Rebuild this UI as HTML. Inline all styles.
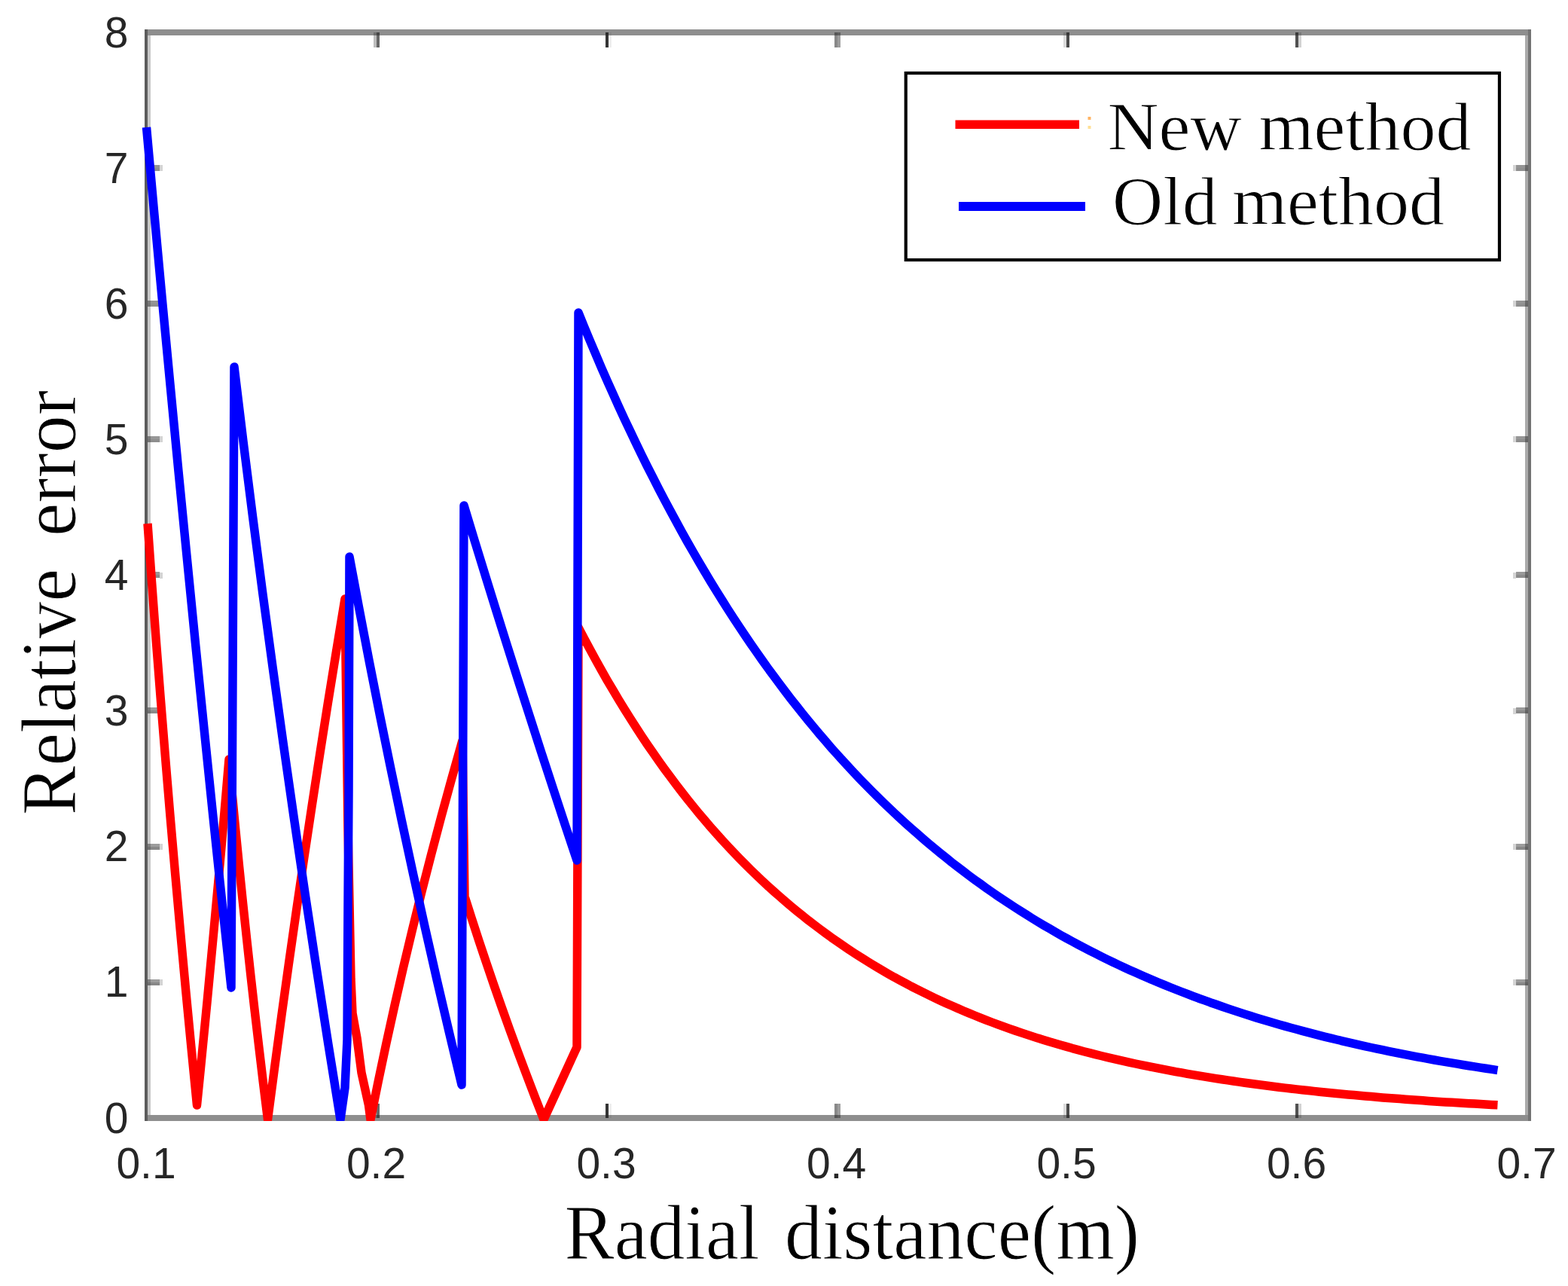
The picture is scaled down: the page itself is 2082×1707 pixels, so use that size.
<!DOCTYPE html>
<html><head><meta charset="utf-8"><title>Relative error vs radial distance</title>
<style>html,body{margin:0;padding:0;background:#fff;}body{width:2082px;height:1707px;overflow:hidden;}svg{display:block;}</style>
</head><body>
<svg width="2082" height="1707" viewBox="0 0 2082 1707">
<defs><clipPath id="c"><rect x="150" y="39" width="1883" height="1449"/></clipPath></defs>
<rect width="2082" height="1707" fill="#fff"/>
<g shape-rendering="crispEdges">
<rect x="192" y="39" width="1841" height="8" fill="#8e8e8e"/>
<rect x="192" y="1480" width="1841" height="8" fill="#8e8e8e"/>
<rect x="192" y="39" width="4" height="1449" fill="#5c5c5c"/>
<rect x="196" y="47" width="4" height="1433" fill="#c8c8c8"/>
<rect x="2025" y="47" width="4" height="1433" fill="#ababab"/>
<rect x="2029" y="39" width="4" height="1449" fill="#747474"/>
<rect x="196" y="1299.66" width="16" height="4.0021" fill="#262626" fill-opacity="0.45"/>
<rect x="196" y="1303.66" width="16" height="4.0021" fill="#262626" fill-opacity="0.55"/>
<rect x="2013" y="1299.66" width="16" height="4.0021" fill="#262626" fill-opacity="0.45"/>
<rect x="2013" y="1303.66" width="16" height="4.0021" fill="#262626" fill-opacity="0.55"/>
<rect x="212" y="1299.9" width="4" height="8" fill="#262626" fill-opacity="0.2"/>
<rect x="2009" y="1299.9" width="4" height="8" fill="#262626" fill-opacity="0.2"/>
<rect x="196" y="1119.57" width="16" height="4.0021" fill="#262626" fill-opacity="0.45"/>
<rect x="196" y="1123.57" width="16" height="4.0021" fill="#262626" fill-opacity="0.55"/>
<rect x="2013" y="1119.57" width="16" height="4.0021" fill="#262626" fill-opacity="0.45"/>
<rect x="2013" y="1123.57" width="16" height="4.0021" fill="#262626" fill-opacity="0.55"/>
<rect x="212" y="1119.8" width="4" height="8" fill="#262626" fill-opacity="0.2"/>
<rect x="2009" y="1119.8" width="4" height="8" fill="#262626" fill-opacity="0.2"/>
<rect x="196" y="939.47" width="16" height="4.0021" fill="#262626" fill-opacity="0.46"/>
<rect x="196" y="943.47" width="16" height="4.0021" fill="#262626" fill-opacity="0.54"/>
<rect x="2013" y="939.47" width="16" height="4.0021" fill="#262626" fill-opacity="0.46"/>
<rect x="2013" y="943.47" width="16" height="4.0021" fill="#262626" fill-opacity="0.54"/>
<rect x="212" y="939.6" width="4" height="8" fill="#262626" fill-opacity="0.2"/>
<rect x="2009" y="939.6" width="4" height="8" fill="#262626" fill-opacity="0.2"/>
<rect x="196" y="759.38" width="16" height="4.0021" fill="#262626" fill-opacity="0.47"/>
<rect x="196" y="763.38" width="16" height="4.0021" fill="#262626" fill-opacity="0.53"/>
<rect x="2013" y="759.38" width="16" height="4.0021" fill="#262626" fill-opacity="0.47"/>
<rect x="2013" y="763.38" width="16" height="4.0021" fill="#262626" fill-opacity="0.53"/>
<rect x="212" y="759.5" width="4" height="8" fill="#262626" fill-opacity="0.2"/>
<rect x="2009" y="759.5" width="4" height="8" fill="#262626" fill-opacity="0.2"/>
<rect x="196" y="579.28" width="16" height="4.0021" fill="#262626" fill-opacity="0.48"/>
<rect x="196" y="583.29" width="16" height="4.0021" fill="#262626" fill-opacity="0.52"/>
<rect x="2013" y="579.28" width="16" height="4.0021" fill="#262626" fill-opacity="0.48"/>
<rect x="2013" y="583.29" width="16" height="4.0021" fill="#262626" fill-opacity="0.52"/>
<rect x="212" y="579.4" width="4" height="8" fill="#262626" fill-opacity="0.2"/>
<rect x="2009" y="579.4" width="4" height="8" fill="#262626" fill-opacity="0.2"/>
<rect x="196" y="399.19" width="16" height="4.0021" fill="#262626" fill-opacity="0.49"/>
<rect x="196" y="403.19" width="16" height="4.0021" fill="#262626" fill-opacity="0.51"/>
<rect x="2013" y="399.19" width="16" height="4.0021" fill="#262626" fill-opacity="0.49"/>
<rect x="2013" y="403.19" width="16" height="4.0021" fill="#262626" fill-opacity="0.51"/>
<rect x="212" y="399.2" width="4" height="8" fill="#262626" fill-opacity="0.2"/>
<rect x="2009" y="399.2" width="4" height="8" fill="#262626" fill-opacity="0.2"/>
<rect x="196" y="219.09" width="16" height="4.0021" fill="#262626" fill-opacity="0.49"/>
<rect x="196" y="223.10" width="16" height="4.0021" fill="#262626" fill-opacity="0.51"/>
<rect x="2013" y="219.09" width="16" height="4.0021" fill="#262626" fill-opacity="0.49"/>
<rect x="2013" y="223.10" width="16" height="4.0021" fill="#262626" fill-opacity="0.51"/>
<rect x="212" y="219.1" width="4" height="8" fill="#262626" fill-opacity="0.2"/>
<rect x="2009" y="219.1" width="4" height="8" fill="#262626" fill-opacity="0.2"/>
<rect x="496" y="43" width="4" height="20" fill="#262626" fill-opacity="0.30"/>
<rect x="500" y="43" width="4" height="20" fill="#262626" fill-opacity="0.70"/>
<rect x="496" y="1465" width="4" height="19" fill="#262626" fill-opacity="0.30"/>
<rect x="500" y="1465" width="4" height="19" fill="#262626" fill-opacity="0.70"/>
<rect x="804" y="43" width="4" height="20" fill="#262626" fill-opacity="0.93"/>
<rect x="808" y="43" width="4" height="20" fill="#262626" fill-opacity="0.07"/>
<rect x="804" y="1465" width="4" height="19" fill="#262626" fill-opacity="0.93"/>
<rect x="808" y="1465" width="4" height="19" fill="#262626" fill-opacity="0.07"/>
<rect x="1108" y="43" width="4" height="20" fill="#262626" fill-opacity="0.55"/>
<rect x="1112" y="43" width="4" height="20" fill="#262626" fill-opacity="0.45"/>
<rect x="1108" y="1465" width="4" height="19" fill="#262626" fill-opacity="0.55"/>
<rect x="1112" y="1465" width="4" height="19" fill="#262626" fill-opacity="0.45"/>
<rect x="1412" y="43" width="4" height="20" fill="#262626" fill-opacity="0.17"/>
<rect x="1416" y="43" width="4" height="20" fill="#262626" fill-opacity="0.83"/>
<rect x="1412" y="1465" width="4" height="19" fill="#262626" fill-opacity="0.17"/>
<rect x="1416" y="1465" width="4" height="19" fill="#262626" fill-opacity="0.83"/>
<rect x="1720" y="43" width="4" height="20" fill="#262626" fill-opacity="0.80"/>
<rect x="1724" y="43" width="4" height="20" fill="#262626" fill-opacity="0.20"/>
<rect x="1720" y="1465" width="4" height="19" fill="#262626" fill-opacity="0.80"/>
<rect x="1724" y="1465" width="4" height="19" fill="#262626" fill-opacity="0.20"/>
</g>
<g clip-path="url(#c)" fill="none" stroke-width="11.5" stroke-linejoin="round" stroke-linecap="butt">
<path d="M196 695 L201.5 772.2 L207.2 849.4 L213.2 926.6 L219.4 1003.8 L225.8 1081 L232.5 1158.2 L239.4 1235.4 L246.5 1312.6 L253.9 1389.8 L261.5 1467 L261.5 1467 L266.1 1421.1 L270.6 1375.2 L275.1 1329.3 L279.4 1283.4 L283.7 1237.5 L287.9 1191.6 L292.1 1145.7 L296.1 1099.8 L300.1 1053.9 L304 1008 L304 1008 L308.4 1055.8 L313 1103.6 L317.7 1151.4 L322.6 1199.2 L327.7 1247 L332.9 1294.8 L338.3 1342.6 L343.9 1390.4 L349.6 1438.2 L355.5 1486 L355.5 1486 L364.6 1416.9 L373.9 1347.8 L383.5 1278.7 L393.4 1209.6 L403.5 1140.5 L413.9 1071.4 L424.5 1002.3 L435.4 933.2 L446.6 864.1 L458 795 L462 1100 L466 1300 L468 1345 L474 1378 L480 1424 L489.5 1467 L492 1486 L492 1486 L502.2 1435.7 L512.8 1385.4 L523.9 1335.1 L535.4 1284.8 L547.4 1234.5 L559.8 1184.2 L572.7 1133.9 L586 1083.6 L599.8 1033.3 L614 983 L617 1190 L626.4 1219.6 L636.1 1249.2 L646 1278.8 L656.1 1308.4 L666.5 1338 L677.1 1367.6 L688 1397.2 L699.1 1426.8 L710.4 1456.4 L722 1486 L766 1390 L768 833 L775.6 847.5 L783.3 861.8 L790.9 875.8 L798.5 889.4 L806.1 902.8 L813.8 915.8 L821.4 928.6 L829 941 L836.7 953.2 L844.3 965.1 L851.9 976.8 L859.5 988.2 L867.2 999.3 L874.8 1010.2 L882.4 1020.8 L890.1 1031.2 L897.7 1041.4 L905.3 1051.3 L912.9 1061 L920.6 1070.5 L928.2 1079.8 L935.8 1088.8 L943.4 1097.7 L951.1 1106.4 L958.7 1114.9 L966.3 1123.1 L974 1131.2 L981.6 1139.2 L989.2 1146.9 L996.8 1154.5 L1004.5 1161.9 L1012.1 1169.1 L1019.7 1176.2 L1027.4 1183.1 L1035 1189.8 L1042.6 1196.4 L1050.2 1202.9 L1057.9 1209.2 L1065.5 1215.3 L1073.1 1221.4 L1080.8 1227.3 L1088.4 1233 L1096 1238.7 L1103.6 1244.2 L1111.3 1249.5 L1118.9 1254.8 L1126.5 1260 L1134.1 1265 L1141.8 1269.9 L1149.4 1274.7 L1157 1279.4 L1164.7 1284 L1172.3 1288.5 L1179.9 1292.9 L1187.5 1297.2 L1195.2 1301.3 L1202.8 1305.4 L1210.4 1309.5 L1218.1 1313.4 L1225.7 1317.2 L1233.3 1320.9 L1240.9 1324.6 L1248.6 1328.2 L1256.2 1331.7 L1263.8 1335.1 L1271.5 1338.4 L1279.1 1341.7 L1286.7 1344.9 L1294.3 1348 L1302 1351.1 L1309.6 1354.1 L1317.2 1357 L1324.9 1359.8 L1332.5 1362.6 L1340.1 1365.3 L1347.7 1368 L1355.4 1370.6 L1363 1373.1 L1370.6 1375.6 L1378.2 1378.1 L1385.9 1380.4 L1393.5 1382.8 L1401.1 1385 L1408.8 1387.3 L1416.4 1389.4 L1424 1391.6 L1431.6 1393.6 L1439.3 1395.7 L1446.9 1397.6 L1454.5 1399.6 L1462.2 1401.5 L1469.8 1403.3 L1477.4 1405.1 L1485 1406.9 L1492.7 1408.6 L1500.3 1410.3 L1507.9 1412 L1515.6 1413.6 L1523.2 1415.2 L1530.8 1416.7 L1538.4 1418.2 L1546.1 1419.7 L1553.7 1421.1 L1561.3 1422.6 L1569 1423.9 L1576.6 1425.3 L1584.2 1426.6 L1591.8 1427.9 L1599.5 1429.1 L1607.1 1430.4 L1614.7 1431.6 L1622.4 1432.8 L1630 1433.9 L1637.6 1435 L1645.2 1436.1 L1652.9 1437.2 L1660.5 1438.3 L1668.1 1439.3 L1675.7 1440.3 L1683.4 1441.3 L1691 1442.2 L1698.6 1443.2 L1706.3 1444.1 L1713.9 1445 L1721.5 1445.9 L1729.1 1446.7 L1736.8 1447.5 L1744.4 1448.4 L1752 1449.2 L1759.7 1449.9 L1767.3 1450.7 L1774.9 1451.5 L1782.5 1452.2 L1790.2 1452.9 L1797.8 1453.6 L1805.4 1454.3 L1813.1 1454.9 L1820.7 1455.6 L1828.3 1456.2 L1835.9 1456.9 L1843.6 1457.5 L1851.2 1458.1 L1858.8 1458.6 L1866.5 1459.2 L1874.1 1459.8 L1881.7 1460.3 L1889.3 1460.8 L1897 1461.4 L1904.6 1461.9 L1912.2 1462.4 L1919.8 1462.9 L1927.5 1463.3 L1935.1 1463.8 L1942.7 1464.2 L1950.4 1464.7 L1958 1465.1 L1965.6 1465.5 L1973.2 1466 L1980.9 1466.4 L1988.5 1466.8" stroke="#ff0000"/>
<path d="M194.5 169 L204.8 283.2 L215.3 397.4 L226.1 511.6 L237 625.8 L248.2 740 L259.5 854.2 L271.1 968.4 L282.8 1082.6 L294.8 1196.8 L307 1311 L311 487 L323.1 586.9 L335.7 686.8 L348.7 786.7 L362.2 886.6 L376.1 986.5 L390.4 1086.4 L405.1 1186.3 L420.3 1286.2 L435.9 1386.1 L452 1486 L458 1444 L461 1380 L462 1200 L463 1050 L464 739 L477.1 809.1 L490.5 879.2 L504.4 949.3 L518.7 1019.4 L533.4 1089.5 L548.5 1159.6 L564 1229.7 L579.9 1299.8 L596.3 1369.9 L613 1440 L616 671 L630.3 718.1 L644.8 765.2 L659.4 812.3 L674.2 859.4 L689.1 906.5 L704.2 953.6 L719.4 1000.7 L734.8 1047.8 L750.3 1094.9 L766 1142 L768 415 L775.6 433.7 L783.3 452.1 L790.9 470.1 L798.5 487.9 L806.1 505.3 L813.8 522.4 L821.4 539.3 L829 555.8 L836.7 572 L844.3 588 L851.9 603.7 L859.5 619.1 L867.2 634.2 L874.8 649.1 L882.4 663.7 L890.1 678 L897.7 692.1 L905.3 706 L912.9 719.6 L920.6 733 L928.2 746.1 L935.8 759 L943.4 771.7 L951.1 784.2 L958.7 796.4 L966.3 808.5 L974 820.3 L981.6 831.9 L989.2 843.3 L996.8 854.5 L1004.5 865.5 L1012.1 876.4 L1019.7 887 L1027.4 897.4 L1035 907.7 L1042.6 917.8 L1050.2 927.7 L1057.9 937.4 L1065.5 947 L1073.1 956.4 L1080.8 965.6 L1088.4 974.7 L1096 983.6 L1103.6 992.4 L1111.3 1001 L1118.9 1009.4 L1126.5 1017.7 L1134.1 1025.9 L1141.8 1033.9 L1149.4 1041.8 L1157 1049.5 L1164.7 1057.1 L1172.3 1064.6 L1179.9 1071.9 L1187.5 1079.1 L1195.2 1086.2 L1202.8 1093.2 L1210.4 1100 L1218.1 1106.7 L1225.7 1113.3 L1233.3 1119.8 L1240.9 1126.2 L1248.6 1132.5 L1256.2 1138.6 L1263.8 1144.7 L1271.5 1150.6 L1279.1 1156.4 L1286.7 1162.2 L1294.3 1167.8 L1302 1173.3 L1309.6 1178.8 L1317.2 1184.1 L1324.9 1189.4 L1332.5 1194.5 L1340.1 1199.6 L1347.7 1204.5 L1355.4 1209.4 L1363 1214.2 L1370.6 1219 L1378.2 1223.6 L1385.9 1228.2 L1393.5 1232.6 L1401.1 1237 L1408.8 1241.4 L1416.4 1245.6 L1424 1249.8 L1431.6 1253.9 L1439.3 1257.9 L1446.9 1261.9 L1454.5 1265.7 L1462.2 1269.6 L1469.8 1273.3 L1477.4 1277 L1485 1280.6 L1492.7 1284.2 L1500.3 1287.7 L1507.9 1291.1 L1515.6 1294.5 L1523.2 1297.8 L1530.8 1301.1 L1538.4 1304.3 L1546.1 1307.4 L1553.7 1310.5 L1561.3 1313.5 L1569 1316.5 L1576.6 1319.4 L1584.2 1322.3 L1591.8 1325.2 L1599.5 1327.9 L1607.1 1330.7 L1614.7 1333.3 L1622.4 1336 L1630 1338.6 L1637.6 1341.1 L1645.2 1343.6 L1652.9 1346.1 L1660.5 1348.5 L1668.1 1350.9 L1675.7 1353.2 L1683.4 1355.5 L1691 1357.7 L1698.6 1359.9 L1706.3 1362.1 L1713.9 1364.2 L1721.5 1366.3 L1729.1 1368.4 L1736.8 1370.4 L1744.4 1372.4 L1752 1374.4 L1759.7 1376.3 L1767.3 1378.2 L1774.9 1380 L1782.5 1381.8 L1790.2 1383.6 L1797.8 1385.4 L1805.4 1387.1 L1813.1 1388.8 L1820.7 1390.5 L1828.3 1392.1 L1835.9 1393.7 L1843.6 1395.3 L1851.2 1396.8 L1858.8 1398.4 L1866.5 1399.9 L1874.1 1401.3 L1881.7 1402.8 L1889.3 1404.2 L1897 1405.6 L1904.6 1407 L1912.2 1408.3 L1919.8 1409.6 L1927.5 1410.9 L1935.1 1412.2 L1942.7 1413.5 L1950.4 1414.7 L1958 1415.9 L1965.6 1417.1 L1973.2 1418.3 L1980.9 1419.4 L1988.5 1420.6" stroke="#0000ff"/>
</g>
<g font-family="'Liberation Sans', Arial, sans-serif" font-size="57" fill="#262626">
<text x="170.5" y="1503.5" text-anchor="end">0</text>
<text x="170.5" y="1323.4" text-anchor="end">1</text>
<text x="170.5" y="1143.2" text-anchor="end">2</text>
<text x="170.5" y="963.1" text-anchor="end">3</text>
<text x="170.5" y="783" text-anchor="end">4</text>
<text x="170.5" y="602.9" text-anchor="end">5</text>
<text x="170.5" y="422.8" text-anchor="end">6</text>
<text x="170.5" y="242.6" text-anchor="end">7</text>
<text x="170.5" y="62.5" text-anchor="end">8</text>
<text x="194" y="1564" text-anchor="middle">0.1</text>
<text x="499.5" y="1564" text-anchor="middle">0.2</text>
<text x="805" y="1564" text-anchor="middle">0.3</text>
<text x="1110.5" y="1564" text-anchor="middle">0.4</text>
<text x="1416" y="1564" text-anchor="middle">0.5</text>
<text x="1721.5" y="1564" text-anchor="middle">0.6</text>
<text x="2027" y="1564" text-anchor="middle">0.7</text>
</g>
<g font-family="'Liberation Serif', 'Times New Roman', serif" font-size="104" fill="#000" stroke="#fff" stroke-width="1">
<text x="749.5" y="1671" textLength="259" lengthAdjust="spacingAndGlyphs">Radial</text>
<text x="1042" y="1671" textLength="471" lengthAdjust="spacingAndGlyphs">distance(m)</text>
<g transform="translate(100,1082) rotate(-90)">
<text x="0" y="0" textLength="327" lengthAdjust="spacingAndGlyphs">Relative</text>
<text x="370" y="0" textLength="194" lengthAdjust="spacingAndGlyphs">error</text>
</g>
</g>
<rect x="1202.75" y="97" width="788.2" height="248" fill="#fff" stroke="#000" stroke-width="4.2"/>
<rect x="1268.5" y="159.5" width="164.5" height="11.5" fill="#ff0000"/>
<rect x="1444.5" y="155" width="4" height="4" fill="#ffb464"/>
<rect x="1444.5" y="167" width="4" height="4" fill="#ffe096"/>
<rect x="1273" y="268" width="168" height="12" fill="#0000ff"/>
<g font-family="'Liberation Serif', 'Times New Roman', serif" font-size="90" fill="#000" stroke="#fff" stroke-width="1">
<text x="1470.5" y="198.5" textLength="178" lengthAdjust="spacingAndGlyphs">New</text>
<text x="1671.5" y="198.5" textLength="282" lengthAdjust="spacingAndGlyphs">method</text>
<text x="1477" y="297.8" textLength="139.5" lengthAdjust="spacingAndGlyphs">Old</text>
<text x="1636" y="297.8" textLength="282" lengthAdjust="spacingAndGlyphs">method</text>
</g>
</svg>
</body></html>
